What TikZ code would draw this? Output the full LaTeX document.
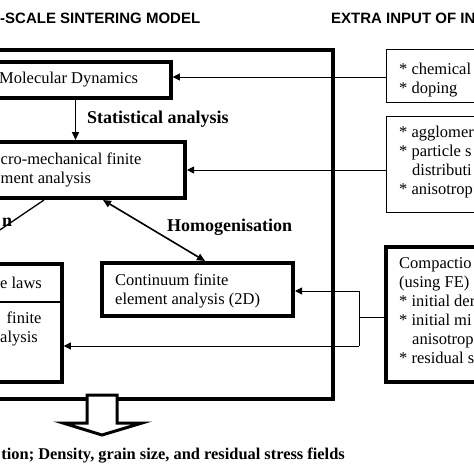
\documentclass[tikz,border=0pt]{standalone}
\usepackage{fontspec}
\setmainfont{Liberation Serif}
\setsansfont{Liberation Sans}
\usetikzlibrary{arrows.meta}
\begin{document}
\begin{tikzpicture}[x=1pt,y=-1pt,
  thickbox/.style={draw, line width=4pt, inner sep=0pt, outer sep=auto},
  thinbox/.style={draw, line width=0.9pt, inner sep=0pt, outer sep=auto},
  boxtext/.style={inner sep=0pt, anchor=north west, align=left, font=\fontsize{16.5}{19}\selectfont},
  lbl/.style={inner sep=0pt, anchor=west, font=\fontsize{18}{20}\selectfont\bfseries},
  headtext/.style={inner sep=0pt, anchor=west, font=\fontsize{15}{17}\selectfont\sffamily\bfseries},
  feed/.style={line width=0.9pt, -{Triangle[length=7pt,width=7pt]}},
  flow/.style={line width=1.6pt, -{Triangle[length=8pt,width=7pt]}},
  twoway/.style={line width=1.6pt, {Triangle[length=8pt,width=7pt]}-{Triangle[length=8pt,width=7pt]}},
]
\useasboundingbox[fill=white] (0,0) rectangle (474,474);

% headers
\node[headtext] (hl) at (0,18) {-SCALE SINTERING MODEL};
\node[headtext] (hr) at (331,18) {EXTRA INPUT OF IN};

% main frame
\node[thickbox, line width=4.5pt, minimum width=353pt, minimum height=349pt] (big) at (156.5,224.5) {};

% model boxes
\node[thickbox, line width=3.5pt, minimum width=191pt, minimum height=36pt] (md) at (75.5,80) {};
\node[boxtext, anchor=west] (mdt) at (-1,80) {Molecular Dynamics};

\node[thickbox, minimum width=205pt, minimum height=56pt] (mic) at (82.5,170) {};
\node[boxtext] (mict) at (0.5,153) {cro-mechanical finite\\ment analysis};

\node[thickbox, line width=3.5pt, minimum width=82pt, minimum height=118pt] (lb) at (21,323) {};
\coordinate (dv) at (0,302);
\draw[line width=2.5pt] (lb.west |- dv) -- (lb.east |- dv);
\node[boxtext, anchor=west] (lbt1) at (0,283) {e laws};
\node[boxtext] (lbt2) at (0,312) {\hspace*{6.5pt}finite\\alysis};

\node[thickbox, minimum width=191pt, minimum height=53pt] (cont) at (197.5,289.5) {};
\node[boxtext] (contt) at (115,274) {Continuum finite\\element analysis (2D)};

% input boxes
\node[thinbox, minimum width=104pt, minimum height=53pt] (in1) at (438,75.5) {};
\node[boxtext] (in1t) at (399,62.5) {* chemical\\* doping};

\node[thinbox, minimum width=104pt, minimum height=96pt] (in2) at (438,164) {};
\node[boxtext] (in2t) at (399,125.5) {* agglomer\\* particle s\\\hspace*{13pt}distributi\\* anisotrop};

\node[thickbox, minimum width=104pt, minimum height=135pt] (in3) at (438,314.5) {};
\node[boxtext] (in3t) at (399,257.5) {Compactio\\(using FE)\\* initial der\\* initial mi\\\hspace*{13pt}anisotrop\\* residual s};

% connectors
\coordinate (y1) at (0,77);
\draw[feed] (in1.west |- y1) -- (md.east |- y1);
\draw[feed] (in2.west |- mic.east) -- (mic.east);

\coordinate (j0) at (359,317);
\coordinate (j1) at (359,291);
\coordinate (j2) at (359,346);
\draw[line width=0.9pt] (in3.west |- j0) -- (j0);
\draw[line width=0.9pt] (j1) -- (j2);
\draw[feed] (j1) -- (cont.east |- j1);
\draw[feed] (j2) -- (lb.east |- j2);

\draw[flow] (md.south) -- (md.south |- mic.north);
\node[lbl] (stat) at (87,119) {Statistical analysis};

\coordinate (h1) at (103,0);
\coordinate (h2) at (205,0);
\draw[twoway] (mic.south -| h1) -- (cont.north -| h2);
\node[lbl] (homo) at (167,227) {Homogenisation};

\coordinate (l1) at (44,0);
\coordinate (lend) at (-12,238);
\draw[line width=1.3pt] (mic.south -| l1) -- (lend);
\node[lbl] (lbn) at (2,222) {n};

% output arrow
\draw[line width=3pt, fill=white] (87,395) -- (117,395) -- (117,423) -- (142,423) -- (102,435) -- (63,423) -- (87,423) -- cycle;
\node[inner sep=0pt, anchor=east, font=\fontsize{16.4}{18}\selectfont\bfseries] (out) at (345,456) {tion; Density, grain size, and residual stress fields};
\end{tikzpicture}
\end{document}
